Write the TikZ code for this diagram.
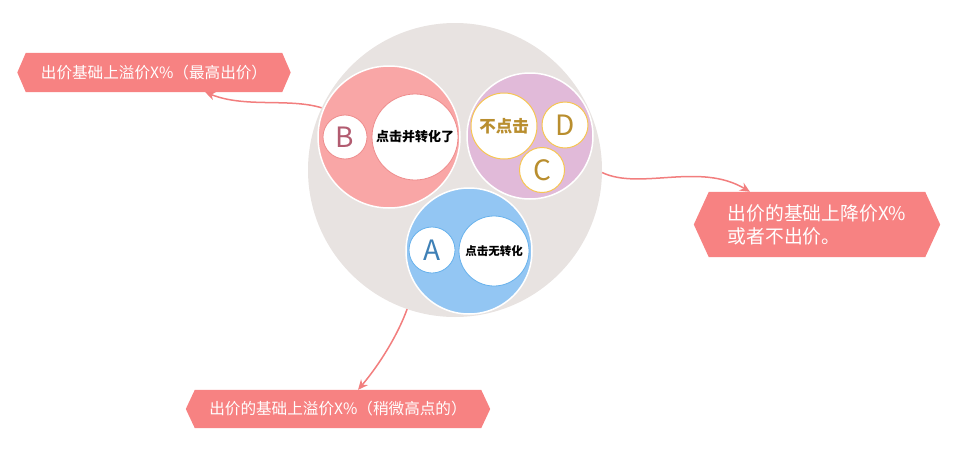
\documentclass[tikz,border=0pt]{standalone}
\usepackage{fontspec}
\setmainfont{Noto Sans CJK SC}
\usetikzlibrary{calc,backgrounds,arrows.meta}
\definecolor{bggray}{HTML}{E8E3E1}
\definecolor{pinkc}{HTML}{F9A6A6}
\definecolor{pinkline}{HTML}{EE8C8C}
\definecolor{purpc}{HTML}{E1BAD9}
\definecolor{bluec}{HTML}{93C6F3}
\definecolor{blueline}{HTML}{66B1EC}
\definecolor{goldline}{HTML}{F6C653}
\definecolor{goldtext}{HTML}{B98E2E}
\definecolor{btext}{HTML}{B25B70}
\definecolor{atext}{HTML}{3E80B6}
\definecolor{arrowc}{HTML}{F27E7E}
\definecolor{labfill}{HTML}{F78282}
\newcommand\hexfill[2]{\fill[labfill] (#1.north west) -- (#1.north east) -- ([xshift=#2]#1.east) -- (#1.south east) -- (#1.south west) -- ([xshift=-#2]#1.west) -- cycle;}
\begin{document}
\begin{tikzpicture}[x=1pt,y=-1pt,
  lab/.style={inner sep=0pt, text=white},
  arr/.style={draw=arrowc, line width=1.5pt, -{Stealth[length=10pt,width=9pt]}},
  bigc/.style={circle, inner sep=0pt, draw=white, line width=1.5pt},
  innerc/.style={circle, inner sep=0pt, fill=white, line width=0.8pt},
  letter/.style={font=\fontsize{28}{28}\selectfont}
]
\useasboundingbox (0,0) rectangle (954,450);
% circles
\node[circle, fill=bggray, minimum size=294pt, inner sep=0pt] (gray) at (455,170) {};
\node[bigc, fill=pinkc, minimum size=142pt] (pink) at (389,137) {};
\node[bigc, fill=purpc, minimum size=126pt] (purp) at (530,136) {};
\node[bigc, fill=bluec, minimum size=126pt] (blue) at (469,251) {};
\node[innerc, draw=pinkline, minimum size=44pt, text=btext, letter] (b) at (345,137) {B};
\node[innerc, draw=pinkline, minimum size=86pt, font=\bfseries\fontsize{13}{14}\selectfont] (bt) at (415,137) {点击并转化了};
\node[innerc, draw=goldline, line width=1pt, minimum size=66pt, text=goldtext, font=\bfseries\fontsize{16.5}{18}\selectfont] (nc) at (504,126) {不点击};
\node[innerc, draw=goldline, line width=1pt, minimum size=46pt, text=goldtext, letter] (d) at (565,125) {D};
\node[innerc, draw=goldline, line width=1pt, minimum size=45pt, text=goldtext, letter] (c) at (542,170) {C};
\node[innerc, draw=blueline, minimum size=46pt, text=atext, letter] (a) at (432,250) {A};
\node[innerc, draw=blueline, minimum size=70pt, font=\bfseries\fontsize{11.5}{13}\selectfont] (at) at (494,251) {点击无转化};
% labels
\node[lab, minimum width=256pt, minimum height=39pt, font=\fontsize{15.6}{17}\selectfont] (l1) at (154,72.5) {出价基础上溢价X\%（最高出价）};
\node[lab, minimum width=216pt, minimum height=65pt, align=left, font=\fontsize{18.8}{23}\selectfont] (l2) at (817,224.5) {出价的基础上降价X\%\\或者不出价。};
\node[lab, minimum width=286pt, minimum height=38pt, font=\fontsize{15.6}{18}\selectfont] (l3) at (338,409) {出价的基础上溢价X\%（稍微高点的）};
\begin{scope}[on background layer]
\hexfill{l1}{8.5}
\hexfill{l2}{15}
\hexfill{l3}{9}
\end{scope}
% arrows
\draw[arr] (gray.155) .. controls +(-33,-10) and +(40,16) .. ($(l1.south west)!0.70!(l1.south east)$);
\draw[arr] (gray.-1) .. controls +(38,18) and +(-50,-30) .. ($(l2.north west)!0.19!(l2.north east)$);
\draw[arr] (gray.251) .. controls +(-9,25) and +(22,-26) .. ($(l3.north west)!0.57!(l3.north east)$);
\end{tikzpicture}
\end{document}
